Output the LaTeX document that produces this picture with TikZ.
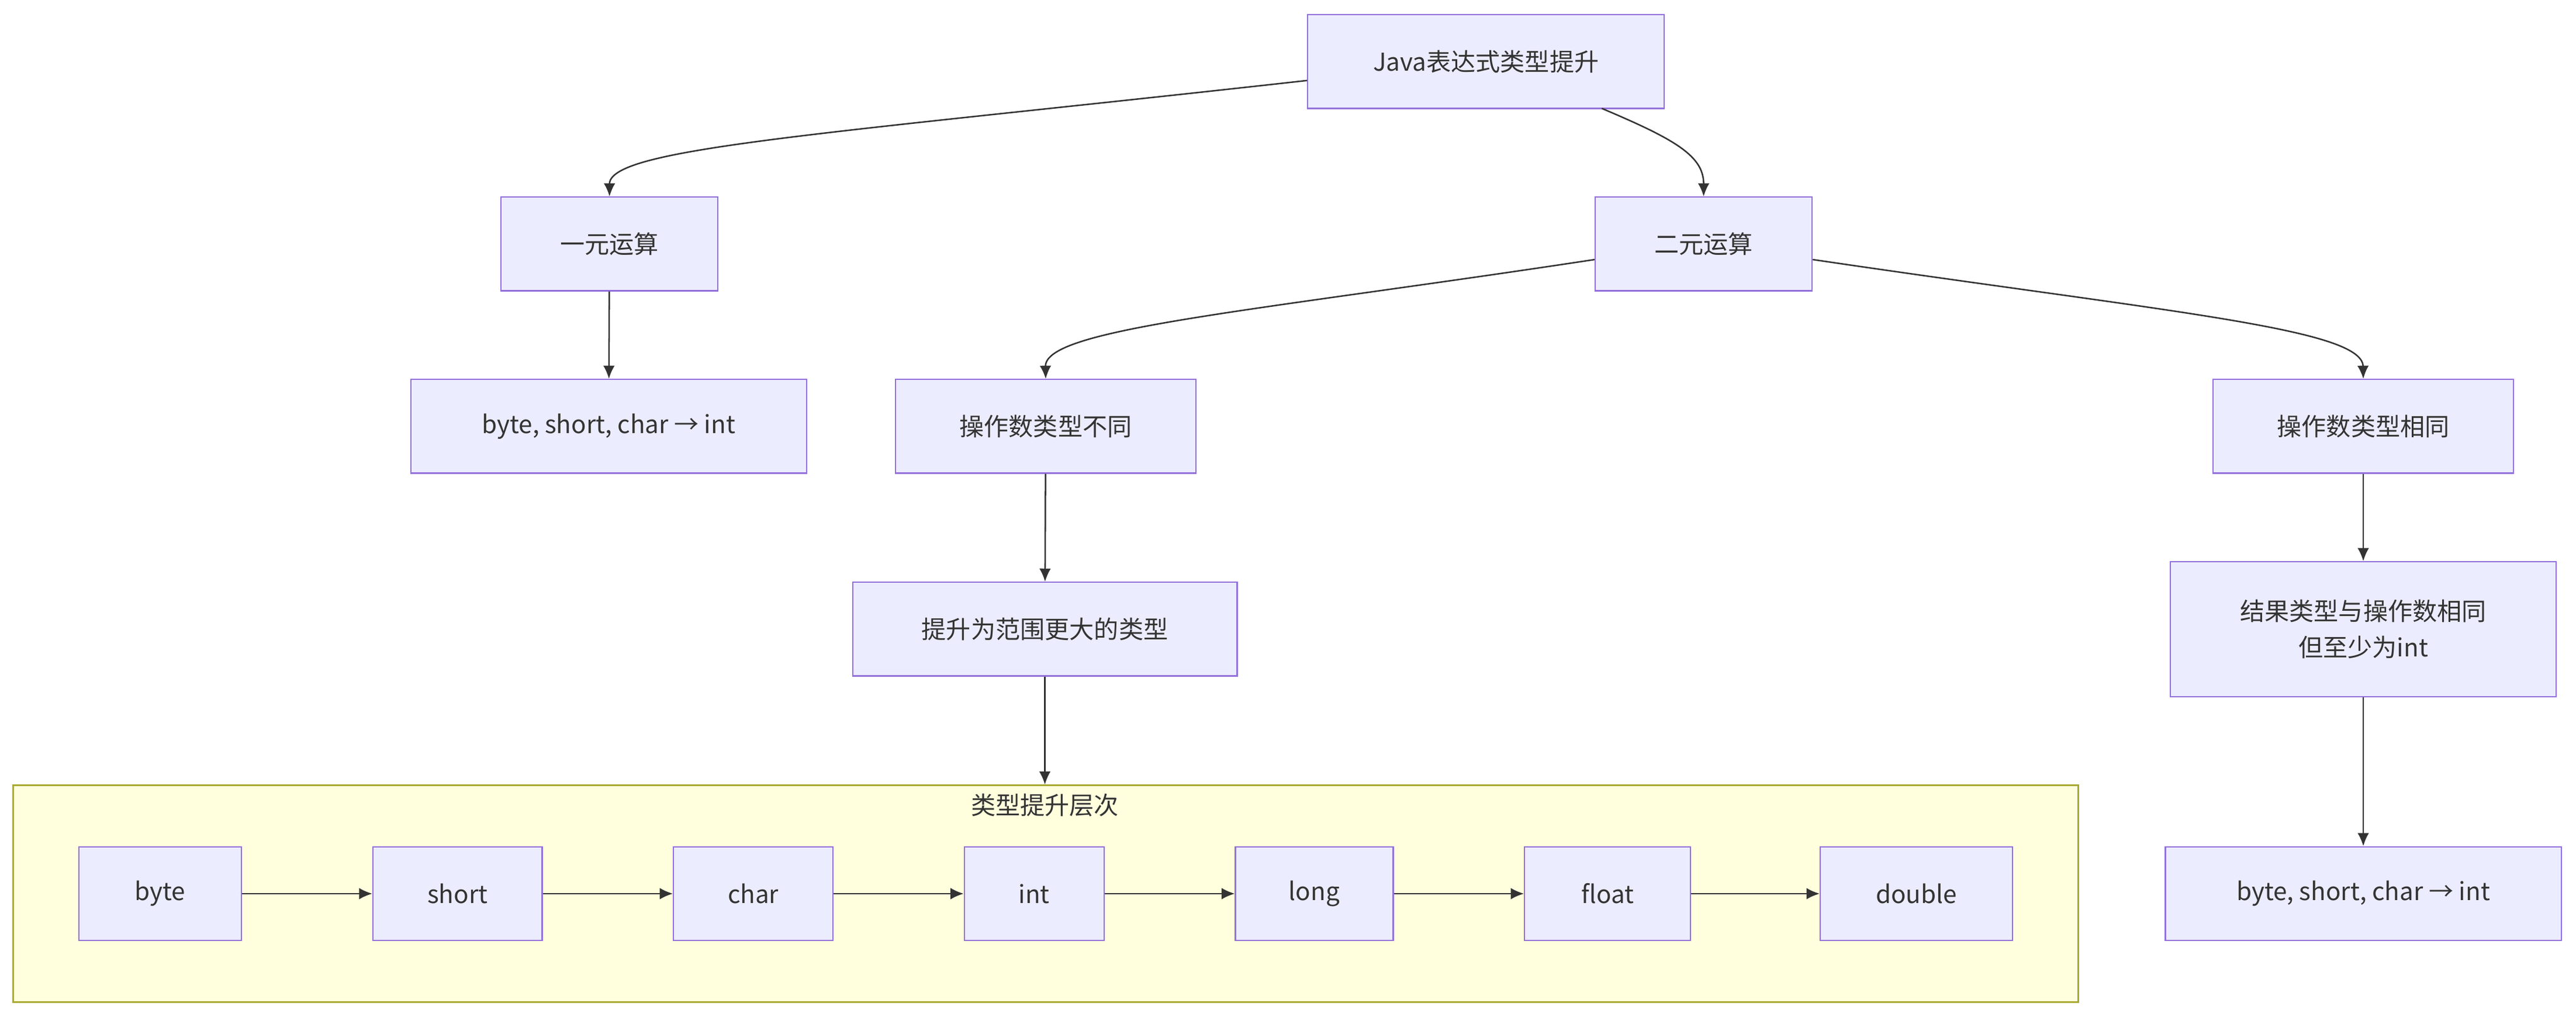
\documentclass[tikz,border=0pt]{standalone}
\usepackage{fontspec}
\setmainfont{Noto Sans CJK SC}
\usetikzlibrary{arrows.meta}
\definecolor{nf}{HTML}{ECECFF}\definecolor{ns}{HTML}{9370DB}
\definecolor{cf}{HTML}{FFFFDE}\definecolor{cs}{HTML}{AAAA33}
\definecolor{ln}{HTML}{333333}
\begin{document}
\begin{tikzpicture}[x=1pt,y=-1pt,
 box/.style={draw=ns,fill=nf,line width=0.8pt,minimum height=57pt,inner sep=0pt,align=center,font=\fontsize{15}{22}\selectfont,text=ln},
 ar/.style={draw=ln,line width=0.9pt,-{Latex[length=8pt,width=7pt]}}]
\useasboundingbox (0,0) rectangle (1568,619);
\fill[white] (0,0) rectangle (1568,619);
\node[draw=cs,fill=cf,line width=0.8pt,minimum width=1257pt,minimum height=132pt,inner sep=0pt] (cl) at (636.5,544) {};
\node[font=\fontsize{15}{18}\selectfont,text=ln] (clt) at (636,490) {类型提升层次};
\node[box,minimum width=217pt] (java) at (904.5,37.5) {Java表达式类型提升};
\node[box,minimum width=132pt] (u) at (371,148.5) {一元运算};
\node[box,minimum width=132pt] (b) at (1037,148.5) {二元运算};
\node[box,minimum width=241pt] (ul) at (370.5,259.5) {byte, short, char → int};
\node[box,minimum width=183pt] (diff) at (636.5,259.5) {操作数类型不同};
\node[box,minimum width=183pt] (same) at (1438.5,259.5) {操作数类型相同};
\node[box,minimum width=234pt] (up) at (636,383) {提升为范围更大的类型};
\node[box,minimum width=235pt,minimum height=82pt] (res) at (1438.5,383) {结果类型与操作数相同\\但至少为int};
\node[box,minimum width=241pt] (rl) at (1438.5,544) {byte, short, char → int};
\node[box,minimum width=99pt] (t1) at (97.5,544) {byte};
\node[box,minimum width=103pt] (t2) at (278.5,544) {short};
\node[box,minimum width=97pt] (t3) at (458.5,544) {char};
\node[box,minimum width=85pt] (t4) at (629.5,544) {int};
\node[box,minimum width=96pt] (t5) at (800,544) {long};
\node[box,minimum width=101pt] (t6) at (978.5,544) {float};
\node[box,minimum width=117pt] (t7) at (1166.5,544) {double};
\draw[ar] (java.west|-0,49) .. controls (500,82) and (371,90) .. (u.north);
\draw[ar] (975,66) .. controls (1020,85) and (1037,95) .. (b.north);
\draw[ar] (b.west|-0,158) .. controls (760,190) and (636,200) .. (diff.north);
\draw[ar] (b.east|-0,158) .. controls (1320,190) and (1438,200) .. (same.north);
\draw[ar] (u) -- (ul);
\draw[ar] (diff) -- (up);
\draw[ar] (up) -- (cl.north-|up);
\draw[ar] (same) -- (res);
\draw[ar] (res) -- (rl);
\foreach \a/\b in {t1/t2,t2/t3,t3/t4,t4/t5,t5/t6,t6/t7} \draw[ar] (\a) -- (\b);
\end{tikzpicture}
\end{document}
